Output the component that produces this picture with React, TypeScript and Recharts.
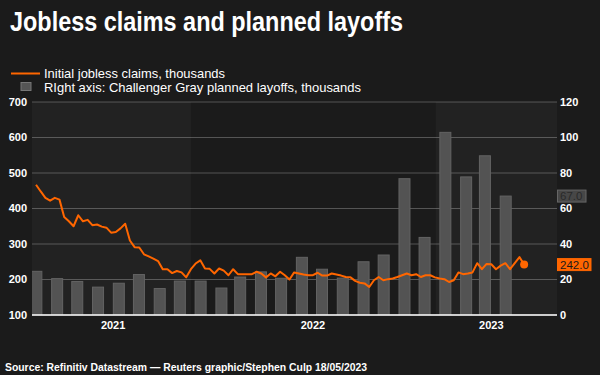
import React from 'react';
import {
  ComposedChart,
  Line,
  Bar,
  XAxis,
  YAxis,
  CartesianGrid,
  ReferenceArea,
  ReferenceDot,
} from 'recharts';

// ---------- data ----------
const claimsFirstWeek = '2021-05-15'; // week-ending date of first weekly point
const claimsValues = [
  467, 448, 430, 422, 430, 425, 376, 364, 350, 381, 364, 368, 353, 355, 349, 346, 332, 334,
  344, 357, 310, 291, 290, 271, 265, 259, 252, 229, 229, 218, 224, 220, 206, 229, 245, 254,
  231, 230, 217, 231, 225, 212, 229, 215, 215, 215, 215, 222, 217, 206, 217, 209, 222, 212,
  200, 220, 217, 214, 212, 212, 219, 211, 211, 217, 214, 211, 207, 206, 196, 191, 189,
  179, 198, 207, 198, 201, 203, 207, 212, 217, 212, 215, 207, 212, 212, 206, 203, 201, 193,
  198, 220, 215, 217, 220, 246, 229, 244, 243, 229, 239, 246, 229, 246, 263, 242,
];

const layoffMonths = [
  '2021-05', '2021-06', '2021-07', '2021-08', '2021-09', '2021-10', '2021-11', '2021-12',
  '2022-01', '2022-02', '2022-03', '2022-04', '2022-05', '2022-06', '2022-07', '2022-08',
  '2022-09', '2022-10', '2022-11', '2022-12', '2023-01', '2023-02', '2023-03', '2023-04',
];
const layoffValues = [
  24.6, 20.5, 18.9, 15.7, 17.9, 22.8, 14.9, 19.1, 19.1, 15.2, 21.4, 24.3,
  20.7, 32.5, 25.8, 20.8, 30.0, 33.8, 76.8, 43.7, 102.9, 77.8, 89.7, 67.0,
];

const yearTickDates = ['2021-09-07', '2022-07-02', '2023-03-25'];
const yearTickLabels = ['2021', '2022', '2023'];
const yearStarts = ['2022-01-01', '2023-01-01'];
const xDomainDates = ['2021-05-09', '2023-07-01'];
const leftTicks = [100, 200, 300, 400, 500, 600, 700];
const rightTicks = [0, 20, 40, 60, 80, 100, 120];

// ---------- helpers ----------
const BASE = Date.UTC(2021, 0, 1);
const toDay = (iso: string) => {
  const [y, m, d] = iso.split('-').map(Number);
  return (Date.UTC(y, m - 1, d || 1) - BASE) / 86400000;
};

const firstWeekDay = toDay(claimsFirstWeek);
const weeklyRows = claimsValues.map((v, i) => ({ t: firstWeekDay + 7 * i, claims: v }));
const monthlyRows = layoffMonths.map((m, i) => ({ t: toDay(m + '-15') + 0.5, layoffs: layoffValues[i] }));
const chartData = [...weeklyRows, ...monthlyRows].sort((a, b) => a.t - b.t);

const xMin = toDay(xDomainDates[0]);
const xMax = toDay(xDomainDates[1]);
const yearTicks = yearTickDates.map(toDay);
const tickLabelFor = (v: number) => {
  const i = yearTicks.indexOf(v);
  return i >= 0 ? yearTickLabels[i] : '';
};

const lastClaim = weeklyRows[weeklyRows.length - 1];
const lastLayoff = layoffValues[layoffValues.length - 1];

const ORANGE = '#ff6600';
const FONT = '"Liberation Sans", Arial, sans-serif';
const BG = '#1b1b1b';

const BarShape = (p: any) => {
  if (!p || p.payload == null || p.payload.layoffs == null || !(p.height > 0)) return null;
  const cx = p.x + p.width / 2;
  return (
    <rect x={cx - 5.5} y={p.y} width={11} height={p.height} fill="#535353" stroke="#636363" strokeWidth={1} />
  );
};

const makeTag = (label: string, w: number, fill: string, stroke: string, color: string) => (p: any) => {
  if (p == null || p.cx == null || p.cy == null) return null;
  return (
    <g>
      <rect x={p.cx + 0.5} y={p.cy - 6} width={w} height={12} fill={fill} stroke={stroke} strokeWidth={1} />
      <text x={p.cx + 3} y={p.cy + 4} fontSize={11.5} fontFamily={FONT} fill={color}>
        {label}
      </text>
    </g>
  );
};

const tickStyle = { fill: '#ffffff', fontSize: 11, fontWeight: 700, fontFamily: FONT };

export default function App() {
  return (
    <div
      style={{
        position: 'absolute',
        left: 0,
        top: 0,
        width: 600,
        height: 375,
        background: BG,
        overflow: 'hidden',
      }}
    >
      <ComposedChart
        width={600}
        height={375}
        data={chartData}
        margin={{ top: 102, right: 0, bottom: 40, left: 0 }}
      >
        <ReferenceArea xAxisId="x" yAxisId="left" x1={xMin} x2={toDay(yearStarts[0])} y1={100} y2={700} fill="#ffffff" fillOpacity={0.03} stroke="none" />
        <ReferenceArea xAxisId="x" yAxisId="left" x1={toDay(yearStarts[1])} x2={xMax} y1={100} y2={700} fill="#ffffff" fillOpacity={0.03} stroke="none" />
        <CartesianGrid xAxisId="x" yAxisId="left" vertical={false} stroke="#555555" strokeWidth={1} />
        <XAxis
          xAxisId="x"
          dataKey="t"
          type="number"
          domain={[xMin, xMax]}
          allowDataOverflow
          ticks={yearTicks}
          tickFormatter={tickLabelFor}
          tick={tickStyle}
          tickSize={0}
          tickMargin={6}
          tickLine={false}
          axisLine={{ stroke: '#ffffff', strokeWidth: 1.5 }}
          height={20}
          interval={0}
        />
        <YAxis
          yAxisId="left"
          orientation="left"
          domain={[100, 700]}
          ticks={leftTicks}
          allowDataOverflow
          width={32}
          tick={tickStyle}
          tickSize={0}
          tickMargin={5}
          tickLine={false}
          axisLine={false}
          interval={0}
        />
        <YAxis
          yAxisId="right"
          orientation="right"
          domain={[0, 120]}
          ticks={rightTicks}
          allowDataOverflow
          width={43}
          tick={tickStyle}
          tickSize={0}
          tickMargin={3}
          tickLine={false}
          axisLine={false}
          interval={0}
        />
        <Bar
          xAxisId="x"
          yAxisId="right"
          dataKey="layoffs"
          shape={BarShape}
          isAnimationActive={false}
        />
        <Line
          xAxisId="x"
          yAxisId="left"
          dataKey="claims"
          type="linear"
          stroke={ORANGE}
          strokeWidth={2}
          strokeLinejoin="round"
          dot={false}
          activeDot={false}
          connectNulls
          isAnimationActive={false}
        />
        <ReferenceDot xAxisId="x" yAxisId="left" x={lastClaim.t} y={lastClaim.claims} r={4} fill={ORANGE} stroke="none" />
        <ReferenceDot
          xAxisId="x"
          yAxisId="right"
          x={xMax}
          y={lastLayoff}
          shape={makeTag(lastLayoff.toFixed(1), 28.5, '#474747', '#666666', '#2a2a2a')}
        />
        <ReferenceDot
          xAxisId="x"
          yAxisId="left"
          x={xMax}
          y={lastClaim.claims}
          shape={makeTag(lastClaim.claims.toFixed(1), 33.5, ORANGE, ORANGE, '#1a1a1a')}
        />
      </ComposedChart>

      <svg
        width={600}
        height={375}
        style={{ position: 'absolute', left: 0, top: 0, pointerEvents: 'none' }}
      >
        <text x={10} y={31} fontFamily={FONT} fontWeight={700} fontSize={28} fill="#ffffff" textLength={393} lengthAdjust="spacingAndGlyphs">
          Jobless claims and planned layoffs
        </text>
        <line x1={11} y1={73.5} x2={40} y2={73.5} stroke={ORANGE} strokeWidth={2} />
        <text x={44} y={78.3} fontFamily={FONT} fontSize={13.5} fill="#ffffff" textLength={181} lengthAdjust="spacingAndGlyphs">
          Initial jobless claims, thousands
        </text>
        <rect x={21} y={82.5} width={10} height={8} fill="#555555" stroke="#777777" strokeWidth={1} />
        <text x={44} y={92.3} fontFamily={FONT} fontSize={13.5} fill="#ffffff" textLength={317} lengthAdjust="spacingAndGlyphs">
          RIght axis: Challenger Gray planned layoffs, thousands
        </text>
        <text x={5} y={371} fontFamily={FONT} fontWeight={700} fontSize={11} fill="#ffffff" textLength={362} lengthAdjust="spacingAndGlyphs">
          Source: Refinitiv Datastream — Reuters graphic/Stephen Culp 18/05/2023
        </text>
      </svg>
    </div>
  );
}
